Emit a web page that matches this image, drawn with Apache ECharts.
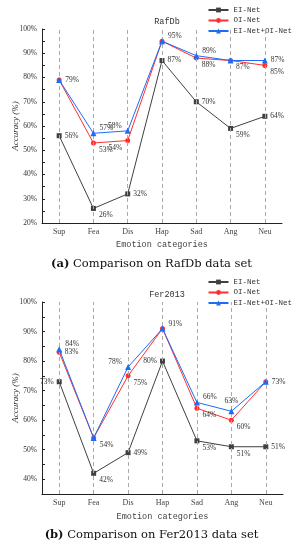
<!DOCTYPE html>
<html><head><meta charset="utf-8">
<script src="https://cdn.jsdelivr.net/npm/echarts@6/dist/echarts.min.js"></script>
<style>html,body{margin:0;padding:0;background:#fff}#c{width:303px;height:550px}</style>
</head><body><div id="c"></div>
<script>
const categories = ['Sup','Fea','Dis','Hap','Sad','Ang','Neu'];
const seriesNames = ['EI-Net','OI-Net','EI-Net+OI-Net'];
const rafEI   = [56,26,32,87,70,59,64];
const rafOI   = [79,53,54,95,88,87,85];
const rafBoth = [79,57,58,95,89,87,87];
const ferEI   = [73,42,49,80,53,51,51];
const ferOI   = [83,54,75,91,64,60,73];
const ferBoth = [84,54,78,91,66,63,73];
const rafTitle = 'RafDb';
const ferTitle = 'Fer2013';

// label placement codes (style, not data)
const rafEIPos   = ['R','BR','R','R','R','BR','R'];
const rafOIPos   = ['-','BR','BL','-','BR','BR','BR'];
const rafBothPos = ['R','TR','TL','TR','TR','-','R'];
const ferEIPos   = ['L','BR','R','L','BR','BR','R'];
const ferOIPos   = ['R','-','BR','-','BR','BR','-'];
const ferBothPos = ['TR','BR','TL','TR','TR','T','R'];

const colors = ['#404040','#ff2f2f','#1e6cf5'];
const symbols = ['rect','circle','triangle'];
const serif = 'Liberation Serif';
const mono = 'Liberation Mono';

const placeMap = {
  'R':  {position:'right', offset:[0,0]},
  'BR': {position:'right', offset:[0,7]},
  'TR': {position:'right', offset:[0,-5]},
  'L':  {position:'left', offset:[0,0]},
  'TL': {position:'left', offset:[0,-5]},
  'BL': {position:'left', offset:[0,7]},
  'T':  {position:'top', offset:[0,0]}
};

function mkData(vals, pos){
  return vals.map((v,i)=>{
    const p = placeMap[pos[i]];
    if(!p) return {value:v, label:{show:false}};
    return {value:v, label:{show:true, position:p.position, offset:p.offset, distance:3}};
  });
}

function mkSeries(idx, sets, posSets){
  return sets.map((vals,k)=>{
    const s = {
      name: seriesNames[k], type:'line', xAxisIndex:idx, yAxisIndex:idx,
      data: mkData(vals, posSets[k]),
      symbol: symbols[k], symbolSize: k===0?5:(k===1?5:6),
      itemStyle:{color:colors[k]},
      lineStyle:{color:colors[k], width:1},
      label:{formatter:'{c}%', color:'#333', fontFamily:serif, fontSize:7.5},
      z: 3+k,
      animation:false
    };
    if(k===0){
      s.markLine = {silent:true, symbol:'none', animation:false,
        lineStyle:{color:'#aaa', type:[4,3], width:1},
        label:{show:false},
        data: categories.map(c=>({xAxis:c}))};
    }
    return s;
  });
}

function mkY(idx, min){
  return {type:'value', gridIndex:idx, min:min, max:100, interval:5,
    name:'Accuracy (%)', nameLocation:'middle', nameGap:22, nameMoveOverlap:false,
    nameTextStyle:{fontFamily:serif, fontSize:9, color:'#333', fontStyle:'italic'},
    axisLine:{show:true, lineStyle:{color:'#222', width:1}},
    axisTick:{show:true, inside:true, length:3, lineStyle:{color:'#222'}},
    splitLine:{show:false},
    axisLabel:{fontFamily:serif, fontSize:7.5, color:'#333', margin:5,
      formatter:v=> (v%10===0 ? v+'%' : '')}
  };
}
function mkX(idx, gap){
  return {type:'category', gridIndex:idx, data:categories, boundaryGap:true,
    name:'Emotion categories', nameLocation:'middle', nameGap:gap, nameMoveOverlap:false,
    nameTextStyle:{fontFamily:mono, fontSize:8.5, color:'#444'},
    axisLine:{show:true, lineStyle:{color:'#222', width:1}},
    axisTick:{show:false},
    splitLine:{show:false},
    axisLabel:{fontFamily:serif, fontSize:8, color:'#444', margin:5}
  };
}
function mkLegend(top){
  return {top:top, right:6, orient:'vertical', itemGap:2.5, itemWidth:20, itemHeight:6,
    data:seriesNames, textStyle:{fontFamily:mono, fontSize:7.5, color:'#333'}, selectedMode:false};
}

const chart = echarts.init(document.getElementById('c'), null, {renderer:'canvas'});
chart.setOption({
  animation:false,
  backgroundColor:'#fff',
  grid:[
    {left:42, width:240, top:29, height:194, containLabel:false, outerBoundsMode:'none'},
    {left:42, width:241, top:302, height:192, containLabel:false, outerBoundsMode:'none'}
  ],
  xAxis:[mkX(0,17), mkX(1,18)],
  yAxis:[mkY(0,20), mkY(1,35)],
  legend:[mkLegend(1), mkLegend(273)],
  title:[
    {text:rafTitle, left:162, top:12, textAlign:'center', textStyle:{fontFamily:mono, fontSize:8.5, fontWeight:'normal', color:'#333'}},
    {text:ferTitle, left:162, top:285, textAlign:'center', textStyle:{fontFamily:mono, fontSize:8.5, fontWeight:'normal', color:'#333'}}
  ],
  graphic:[
    {type:'text', left:'center', top:258, style:{text:'{b|(a)} Comparison on RafDb data set',
      rich:{b:{fontWeight:'bold', fontFamily:'DejaVu Serif', fontSize:11.5, fill:'#111'}},
      font:'11.5px "DejaVu Serif"', fill:'#111'}},
    {type:'text', left:'center', top:529, style:{text:'{b|(b)} Comparison on Fer2013 data set',
      rich:{b:{fontWeight:'bold', fontFamily:'DejaVu Serif', fontSize:11.5, fill:'#111'}},
      font:'11.5px "DejaVu Serif"', fill:'#111'}}
  ],
  series:[
    ...mkSeries(0,[rafEI,rafOI,rafBoth],[rafEIPos,rafOIPos,rafBothPos]),
    ...mkSeries(1,[ferEI,ferOI,ferBoth],[ferEIPos,ferOIPos,ferBothPos])
  ]
});
</script></body></html>
